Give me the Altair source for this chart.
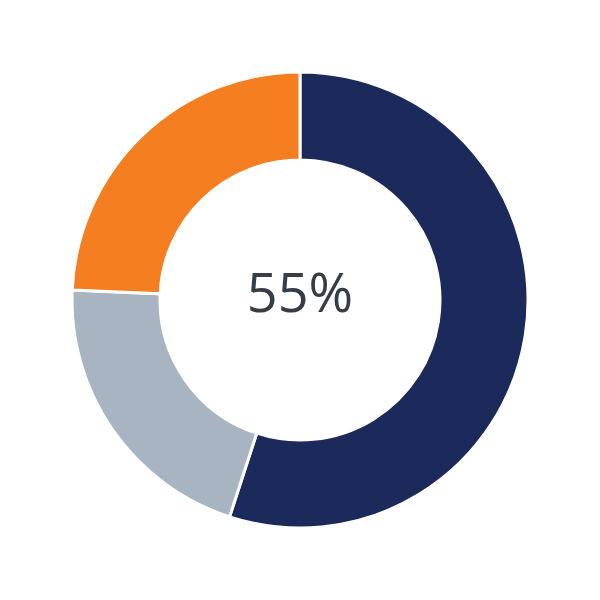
import altair as alt
import pandas as pd

categories = ["A", "B", "C"]
values = [55, 20.7, 24.3]
colors = ["#1b2a5a", "#a9b4c3", "#f47e20"]
order = [1, 2, 3]
center_label = "55%"

df = pd.DataFrame({"category": categories, "value": values, "order": order})

W = 584
H = 584

arcs = alt.Chart(df).mark_arc(
    radius=228, radius2=140, stroke="white", strokeWidth=3
).encode(
    theta=alt.Theta("value:Q", stack=True),
    color=alt.Color("category:N", scale=alt.Scale(domain=categories, range=colors), legend=None),
    order=alt.Order("order:Q"),
)

label = alt.Chart(pd.DataFrame({"t": [center_label]})).mark_text(
    font="Open Sans", fontSize=54, color="#353d47", align="center", baseline="middle"
).encode(
    text="t:N",
    x=alt.value(W / 2),
    y=alt.value(H / 2 - 4),
)

chart = alt.layer(arcs, label).properties(
    width=W, height=H, padding=0, autosize=alt.AutoSizeParams(type="none")
).configure_view(stroke=None)

chart.save("out.html", embed_options={"renderer": "svg", "actions": False})
